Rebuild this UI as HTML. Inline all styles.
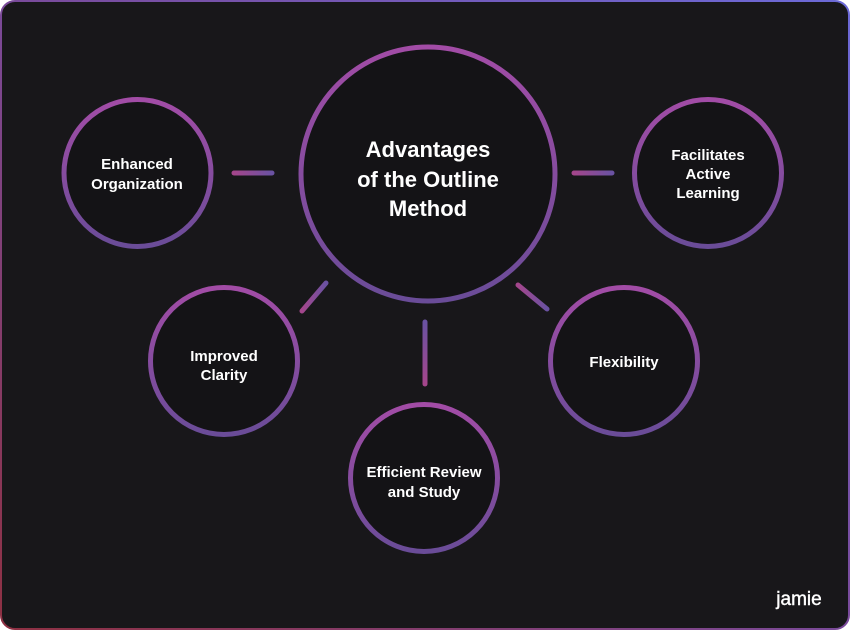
<!DOCTYPE html>
<html><head><meta charset="utf-8"><style>
html,body{margin:0;padding:0;background:#fff;}
body{width:850px;height:630px;overflow:hidden;}
</style></head><body>
<svg width="850" height="630" viewBox="0 0 850 630" xmlns="http://www.w3.org/2000/svg" font-family="Liberation Sans, sans-serif">
<defs>
<linearGradient id="bd" x1="1" y1="0" x2="0" y2="1">
<stop offset="0" stop-color="#6c6ad8"/><stop offset="0.5" stop-color="#7a4a9a"/><stop offset="1" stop-color="#8e3042"/>
</linearGradient>
<linearGradient id="cg" x1="0" y1="0" x2="0" y2="1">
<stop offset="0" stop-color="#a24ca6"/><stop offset="1" stop-color="#6a4c98"/>
</linearGradient>
<linearGradient id="lg" x1="0" y1="0" x2="1" y2="0">
<stop offset="0" stop-color="#a4468c"/><stop offset="1" stop-color="#6a52a2"/>
</linearGradient>
<linearGradient id="h1" gradientUnits="userSpaceOnUse" x1="234" y1="0" x2="272" y2="0">
<stop offset="0" stop-color="#a4468c"/><stop offset="1" stop-color="#6a52a2"/>
</linearGradient>
<linearGradient id="h2" gradientUnits="userSpaceOnUse" x1="574" y1="0" x2="612" y2="0">
<stop offset="0" stop-color="#a4468c"/><stop offset="1" stop-color="#6a52a2"/>
</linearGradient>
<linearGradient id="v1" gradientUnits="userSpaceOnUse" x1="0" y1="322" x2="0" y2="384">
<stop offset="0" stop-color="#6a52a2"/><stop offset="1" stop-color="#a4468c"/>
</linearGradient>
</defs>
<rect x="1" y="1" width="848" height="628" rx="14" fill="#18171a" stroke="url(#bd)" stroke-width="2"/>
<g stroke-width="5" stroke-linecap="round">
<line x1="234" y1="173" x2="272" y2="173" stroke="url(#h1)"/>
<line x1="574" y1="173" x2="612" y2="173" stroke="url(#h2)"/>
<line x1="302" y1="311" x2="326" y2="283" stroke="url(#lg)"/>
<line x1="425" y1="322" x2="425" y2="384" stroke="url(#v1)"/>
<line x1="518" y1="285" x2="547" y2="309" stroke="url(#lg)"/>
</g>
<g fill="#141316" stroke="url(#cg)" stroke-width="5">
<circle cx="428" cy="174" r="127"/>
<circle cx="137.5" cy="173" r="73.5"/>
<circle cx="708" cy="173" r="73.5"/>
<circle cx="224" cy="361" r="73.5"/>
<circle cx="424" cy="478" r="73.5"/>
<circle cx="624" cy="361" r="73.5"/>
</g>
<g fill="#ffffff" text-anchor="middle" font-weight="bold">
<text font-size="22" x="428"><tspan x="428" y="157">Advantages</tspan><tspan x="428" y="187">of the Outline</tspan><tspan x="428" y="216">Method</tspan></text>
<g font-size="15">
<text><tspan x="137" y="169">Enhanced</tspan><tspan x="137" y="189">Organization</tspan></text>
<text><tspan x="708" y="160">Facilitates</tspan><tspan x="708" y="179">Active</tspan><tspan x="708" y="198">Learning</tspan></text>
<text><tspan x="224" y="361">Improved</tspan><tspan x="224" y="380">Clarity</tspan></text>
<text><tspan x="424" y="477">Efficient Review</tspan><tspan x="424" y="497">and Study</tspan></text>
<text x="624" y="367">Flexibility</text>
</g>
<text x="799" y="605" font-size="19" font-weight="normal" stroke="#ffffff" stroke-width="0.4">jamie</text>
</g>
</svg>
</body></html>
